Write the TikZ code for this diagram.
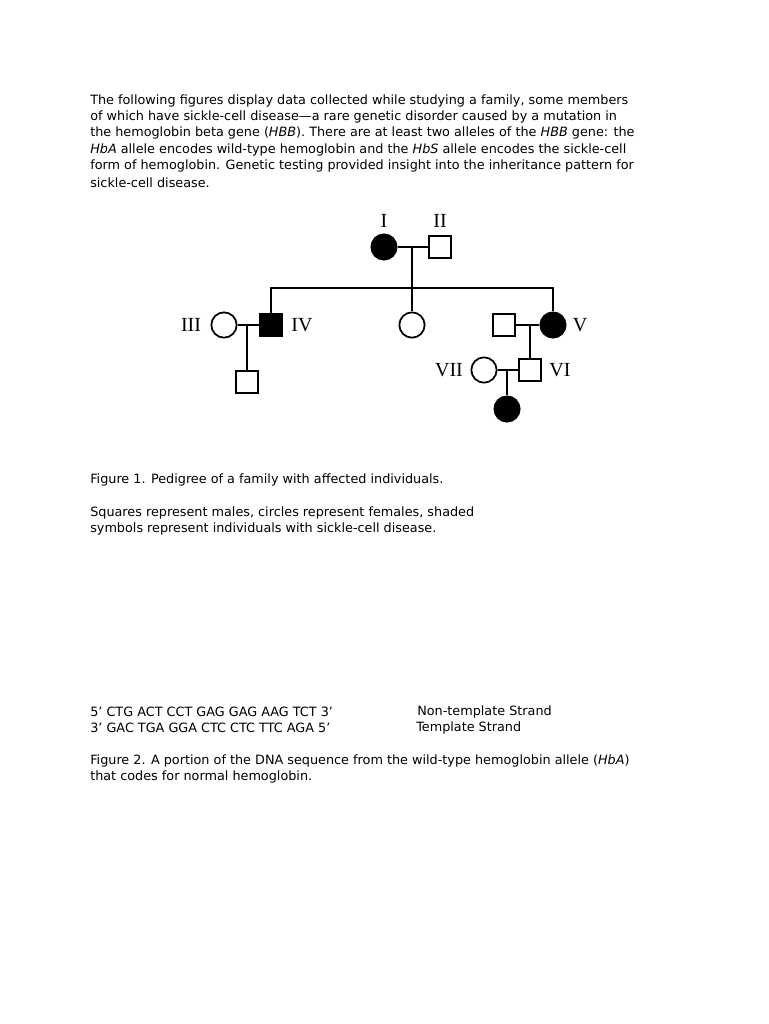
\documentclass[tikz,border=0pt]{standalone}
\usepackage{fontspec}
\setmainfont{DejaVu Sans}
\newfontfamily\romfont{Liberation Serif}
\begin{document}
\begin{tikzpicture}[x=0.75pt,y=-0.75pt,
  txt/.style={anchor=west,inner sep=0pt,font=\fontsize{9.6}{11}\selectfont},
  lab/.style={inner sep=0pt,font=\romfont\fontsize{15}{15}\selectfont},
  male/.style={draw,line width=1.3pt,minimum size=16pt,inner sep=0pt},
  female/.style={draw,circle,line width=1.3pt,minimum size=19pt,inner sep=0pt},
  aff/.style={fill=black},
  ln/.style={line width=1.3pt}]
\useasboundingbox (0,0) rectangle (768,1024);
% text
\node[txt] (t1) at (90,101) {The following figures display data collected while studying a family, some members};
\node[txt] (t2) at (90,117) {of which have sickle-cell disease—a rare genetic disorder caused by a mutation in};
\node[txt] (t3) at (90,133) {the hemoglobin beta gene (\textit{HBB}). There are at least two alleles of the \textit{HBB} gene: the};
\node[txt] (t4) at (90,150) {\textit{HbA} allele encodes wild-type hemoglobin and the \textit{HbS} allele encodes the sickle-cell};
\node[txt] (t5) at (90,166) {form of hemoglobin. Genetic testing provided insight into the inheritance pattern for};
\node[txt] (t6) at (90,183) {sickle-cell disease.};
\node[txt] (f1) at (90,480) {Figure 1. Pedigree of a family with affected individuals.};
\node[txt] (s1) at (90,513) {Squares represent males, circles represent females, shaded};
\node[txt] (s2) at (90,529) {symbols represent individuals with sickle-cell disease.};
\node[txt] (d1) at (90,712) {5' CTG ACT CCT GAG GAG AAG TCT 3'};
\node[txt] (d2) at (90,728) {3' GAC TGA GGA CTC CTC TTC AGA 5'};
\node[txt] (n1) at (417,712) {Non-template Strand};
\node[txt] (n2) at (416,728) {Template Strand};
\node[txt] (f2) at (90,761) {Figure 2. A portion of the DNA sequence from the wild-type hemoglobin allele (\textit{HbA})};
\node[txt] (f3) at (90,777) {that codes for normal hemoglobin.};
% pedigree
\node[female,aff] (I) at (384,247) {};
\node[male] (II) at (440,247) {};
\node[female] (III) at (224,325) {};
\node[male,aff] (IV) at (271,325) {};
\node[female] (mid) at (412,325) {};
\node[male] (Vs) at (504,325) {};
\node[female,aff] (V) at (553,325) {};
\node[female] (VII) at (484,370) {};
\node[male] (VI) at (530,370) {};
\node[male] (c1) at (247,382) {};
\node[female,aff] (c2) at (507,409) {};
\node[lab] at (384,221) {I};
\node[lab] at (440,221) {II};
\node[lab] at (191,325) {III};
\node[lab] at (302,325) {IV};
\node[lab] at (580,325) {V};
\node[lab] at (449,370) {VII};
\node[lab] at (560,370) {VI};
\coordinate (m1) at (412,247);
\coordinate (sib) at (412,288);
\coordinate (m2) at (247,325);
\coordinate (m3) at (530,325);
\coordinate (m4) at (507,370);
\draw[ln] (I) -- (II);
\draw[ln] (m1) -- (mid);
\draw[ln] (IV) |- (sib) -| (V);
\draw[ln] (III) -- (IV);
\draw[ln] (m2) -- (c1);
\draw[ln] (Vs) -- (V);
\draw[ln] (m3) -- (VI);
\draw[ln] (VII) -- (VI);
\draw[ln] (m4) -- (c2);
\end{tikzpicture}
\end{document}
